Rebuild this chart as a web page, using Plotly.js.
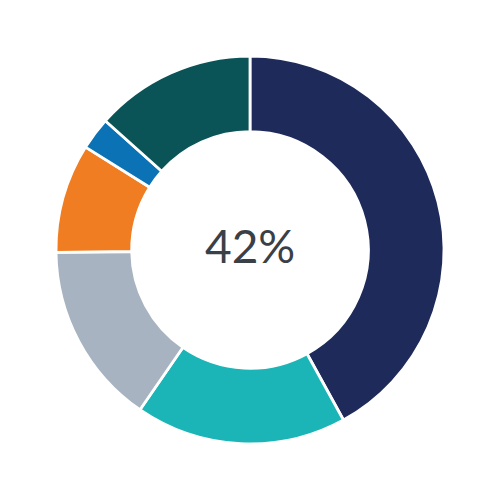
<!DOCTYPE html>
<html>
<head>
<meta charset="utf-8">
<script src="https://cdn.plot.ly/plotly-3.0.1.min.js"></script>
<style>
  html, body { margin: 0; padding: 0; background: #fff; }
  #graph { width: 500px; height: 500px; }
</style>
</head>
<body>
<div id="graph"></div>
<script>
const labels = ['Navy', 'Teal', 'Gray', 'Orange', 'Blue', 'Dark green'];
const values = [42.0, 17.6, 15.2, 9.1, 2.7, 13.4];
const colors = ['#1e2b5a', '#1bb5b7', '#a8b3c1', '#f07d22', '#0b72b5', '#0a5356'];
const centerLabel = '42%';

const trace = {
  type: 'pie',
  labels: labels,
  values: values,
  hole: 0.61,
  sort: false,
  direction: 'clockwise',
  rotation: 0,
  textinfo: 'none',
  hoverinfo: 'label+percent',
  marker: { colors: colors, line: { color: '#ffffff', width: 2.8 } },
  domain: { x: [0, 1], y: [0, 1] }
};

const layout = {
  width: 500,
  height: 500,
  margin: { l: 56, r: 56, t: 56, b: 56, pad: 0 },
  showlegend: false,
  paper_bgcolor: '#ffffff',
  annotations: [{
    text: centerLabel,
    x: 0.5, y: 0.5, xref: 'paper', yref: 'paper',
    yshift: 5,
    showarrow: false,
    font: { family: 'Lato, "Open Sans", sans-serif', size: 46, color: '#3a4047' }
  }]
};

Plotly.newPlot('graph', [trace], layout, { displayModeBar: false, staticPlot: true });
</script>
</body>
</html>
